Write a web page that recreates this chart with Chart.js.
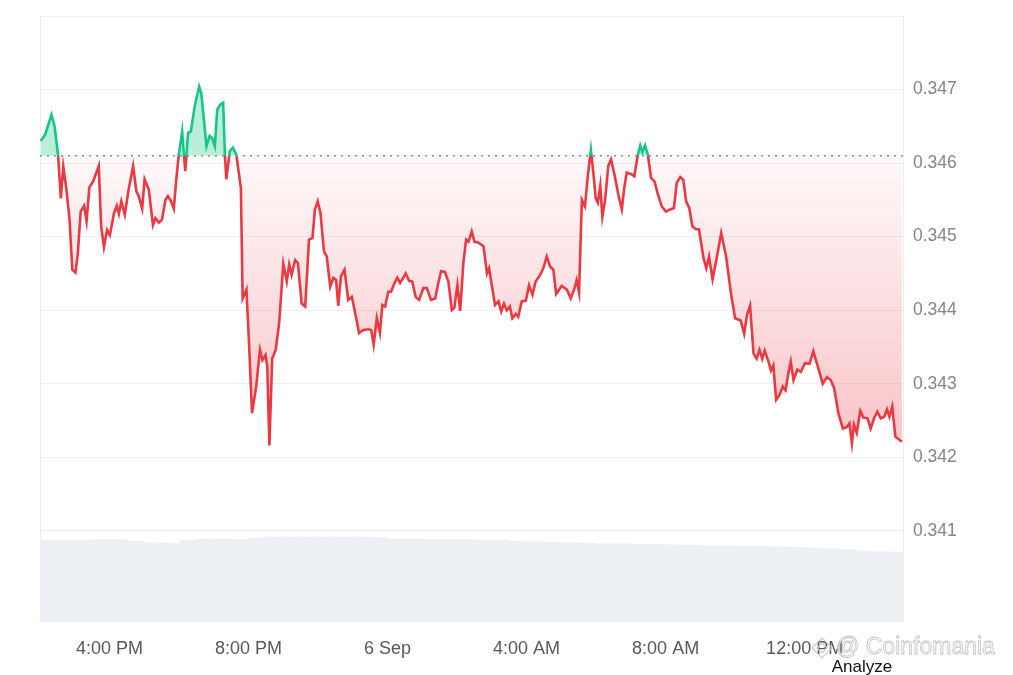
<!DOCTYPE html>
<html>
<head>
<meta charset="utf-8">
<script src="https://cdn.jsdelivr.net/npm/chart.js@4.4.1/dist/chart.umd.min.js"></script>
<style>
  html, body { margin: 0; padding: 0; background: #fff; }
  #wrap { width: 1013px; height: 675px; position: relative; }
</style>
</head>
<body>
<div id="wrap"><canvas id="priceChart"></canvas></div>
<script>
// hours counted from 12:00 PM on 5 Sep
var times = [
  2.02, 2.15, 2.33, 2.42, 2.52, 2.60, 2.67, 2.76, 2.85, 2.93,
  3.02, 3.09, 3.17, 3.27, 3.34, 3.42, 3.53, 3.69, 3.76, 3.84,
  3.93, 4.01, 4.13, 4.21, 4.27, 4.34, 4.44, 4.55, 4.68, 4.77,
  4.84, 4.94, 5.01, 5.13, 5.25, 5.32, 5.42, 5.51, 5.61, 5.68,
  5.76, 5.85, 5.92, 5.99, 6.09, 6.18, 6.26, 6.34, 6.45, 6.58,
  6.64, 6.79, 6.88, 6.95, 7.03, 7.10, 7.20, 7.27, 7.32, 7.36,
  7.46, 7.55, 7.65, 7.78, 7.83, 7.94, 8.01, 8.10, 8.22, 8.33,
  8.40, 8.49, 8.54, 8.60, 8.68, 8.78, 8.88, 9.00, 9.10, 9.17,
  9.24, 9.34, 9.42, 9.53, 9.63, 9.74, 9.84, 9.91, 9.99, 10.07,
  10.17, 10.25, 10.35, 10.44, 10.52, 10.58, 10.66, 10.76, 10.87, 10.97,
  11.04, 11.18, 11.30, 11.45, 11.53, 11.60, 11.69, 11.78, 11.85, 11.93,
  12.02, 12.10, 12.20, 12.28, 12.36, 12.45, 12.52, 12.62, 12.71, 12.81,
  12.91, 13.03, 13.13, 13.25, 13.37, 13.46, 13.54, 13.65, 13.75, 13.85,
  13.92, 14.01, 14.09, 14.18, 14.26, 14.33, 14.42, 14.50, 14.60,
  14.76, 14.86, 14.92, 15.02, 15.09, 15.19, 15.27, 15.35, 15.43, 15.52,
  15.59, 15.69, 15.76, 15.86, 15.98, 16.07, 16.17, 16.26, 16.39, 16.48,
  16.58, 16.68, 16.77, 16.85, 17.01, 17.16, 17.27, 17.38, 17.44, 17.51,
  17.59, 17.68, 17.76, 17.85, 17.92, 17.99, 18.05, 18.12, 18.18, 18.26,
  18.35, 18.43, 18.53, 18.64, 18.74, 18.81, 18.88, 19.01, 19.10, 19.20,
  19.27, 19.33, 19.41, 19.49, 19.58, 19.68, 19.78, 19.89, 20.01, 20.13,
  20.24, 20.32, 20.42, 20.51, 20.59, 20.68, 20.77, 20.87, 20.96, 21.09,
  21.17, 21.25, 21.35, 21.45, 21.60, 21.74, 21.88, 22.00, 22.16, 22.26,
  22.34, 22.43, 22.53, 22.62, 22.70, 22.78, 22.85, 22.96, 23.03, 23.10,
  23.18, 23.27, 23.37, 23.45, 23.53, 23.60, 23.68, 23.79, 23.89, 24.01,
  24.14, 24.25, 24.35, 24.45, 24.52, 24.64, 24.75, 24.85, 24.97, 25.10,
  25.21, 25.29, 25.36, 25.42, 25.50, 25.60, 25.69, 25.81, 25.90, 26.00,
  26.09, 26.19, 26.29, 26.37, 26.44, 26.52, 26.61, 26.80
];

var prices = [
  0.34630, 0.34639, 0.34666, 0.34650, 0.34611, 0.34552, 0.34595, 0.34564, 0.34523, 0.34455,
  0.34451, 0.34478, 0.34534, 0.34542, 0.34521, 0.34567, 0.34575, 0.34596, 0.34514, 0.34486,
  0.34509, 0.34502, 0.34532, 0.34542, 0.34531, 0.34548, 0.34530, 0.34564, 0.34596, 0.34562,
  0.34555, 0.34538, 0.34578, 0.34564, 0.34516, 0.34525, 0.34519, 0.34523, 0.34550, 0.34555,
  0.34549, 0.34538, 0.34577, 0.34610, 0.34643, 0.34589, 0.34641, 0.34643, 0.34677, 0.34704,
  0.34695, 0.34623, 0.34637, 0.34634, 0.34623, 0.34673, 0.34680, 0.34682, 0.34611, 0.34578,
  0.34616, 0.34621, 0.34611, 0.34566, 0.34416, 0.34428, 0.34359, 0.34260, 0.34296, 0.34346,
  0.34332, 0.34339, 0.34323, 0.34216, 0.34334, 0.34346, 0.34382, 0.34463, 0.34439, 0.34462,
  0.34448, 0.34468, 0.34464, 0.34409, 0.34405, 0.34496, 0.34498, 0.34537, 0.34548, 0.34532,
  0.34480, 0.34473, 0.34432, 0.34444, 0.34441, 0.34406, 0.34446, 0.34455, 0.34414, 0.34418,
  0.34403, 0.34369, 0.34373, 0.34374, 0.34373, 0.34353, 0.34389, 0.34369, 0.34407, 0.34405,
  0.34425, 0.34425, 0.34437, 0.34444, 0.34437, 0.34444, 0.34450, 0.34440, 0.34439, 0.34418,
  0.34414, 0.34430, 0.34430, 0.34414, 0.34416, 0.34437, 0.34453, 0.34452, 0.34439, 0.34400,
  0.34403, 0.34434, 0.34399, 0.34464, 0.34496, 0.34493, 0.34507, 0.34493, 0.34492,
  0.34487, 0.34450, 0.34457, 0.34428, 0.34407, 0.34412, 0.34398, 0.34409, 0.34400, 0.34405,
  0.34389, 0.34395, 0.34391, 0.34412, 0.34413, 0.34434, 0.34421, 0.34439, 0.34448, 0.34457,
  0.34473, 0.34459, 0.34455, 0.34422, 0.34433, 0.34428, 0.34416, 0.34430, 0.34441, 0.34424,
  0.34550, 0.34541, 0.34582, 0.34618, 0.34587, 0.34552, 0.34546, 0.34569, 0.34527, 0.34550,
  0.34596, 0.34605, 0.34584, 0.34557, 0.34537, 0.34566, 0.34587, 0.34585, 0.34582, 0.34611,
  0.34624, 0.34615, 0.34624, 0.34611, 0.34580, 0.34575, 0.34557, 0.34541, 0.34534, 0.34537,
  0.34539, 0.34573, 0.34581, 0.34577, 0.34548, 0.34539, 0.34514, 0.34510, 0.34510, 0.34471,
  0.34457, 0.34473, 0.34442, 0.34466, 0.34505, 0.34473, 0.34423, 0.34389, 0.34386, 0.34368,
  0.34393, 0.34406, 0.34341, 0.34334, 0.34346, 0.34334, 0.34345, 0.34330, 0.34318, 0.34325,
  0.34278, 0.34284, 0.34296, 0.34291, 0.34314, 0.34330, 0.34305, 0.34319, 0.34316, 0.34328,
  0.34327, 0.34344, 0.34328, 0.34312, 0.34300, 0.34309, 0.34305, 0.34294, 0.34260, 0.34239,
  0.34241, 0.34246, 0.34219, 0.34244, 0.34233, 0.34263, 0.34254, 0.34253, 0.34239, 0.34253,
  0.34262, 0.34253, 0.34255, 0.34265, 0.34255, 0.34269, 0.34228, 0.34221
];

var openPrice = 0.3461;

var volHours = [
  2.25, 2.75, 3.25, 3.75, 4.25, 4.75, 5.25, 5.75, 6.25, 6.75,
  7.25, 7.75, 8.25, 8.75, 9.25, 9.75, 10.25, 10.75, 11.25, 11.75,
  12.25, 12.75, 13.25, 13.75, 14.25, 14.75, 15.25, 15.75, 16.25, 16.75,
  17.25, 17.75, 18.25, 18.75, 19.25, 19.75, 20.25, 20.75, 21.25, 21.75,
  22.25, 22.75, 23.25, 23.75, 24.25, 24.75, 25.25, 25.75, 26.25, 26.75
];
var volumes = [
  8.1, 8.1, 8.1, 8.15, 8.15, 8.0, 7.85, 7.8, 8.1, 8.2,
  8.2, 8.15, 8.3, 8.4, 8.4, 8.4, 8.4, 8.4, 8.4, 8.35,
  8.2, 8.2, 8.15, 8.15, 8.15, 8.1, 8.1, 8.0, 7.95, 7.9,
  7.85, 7.8, 7.75, 7.75, 7.7, 7.7, 7.65, 7.6, 7.55, 7.55,
  7.5, 7.5, 7.45, 7.4, 7.35, 7.25, 7.2, 7.0, 6.95, 6.9
];

var tickHours = [4, 8, 12, 16, 20, 24];
var tickLabels = ['4:00 PM', '8:00 PM', '6 Sep', '4:00 AM', '8:00 AM', '12:00 PM'];
var priceTicks = [0.341, 0.342, 0.343, 0.344, 0.345, 0.346, 0.347, 0.348];

var GREEN = 'rgb(22, 199, 132)';
var RED = 'rgb(234, 57, 67)';
var FONT = "'Liberation Sans', Arial, sans-serif";

var pricePoints = times.map(function (t, i) {
  return { x: t, y: prices[i] };
});
var volPoints = volHours.map(function (t, i) {
  return { x: t, y: volumes[i] };
});

// left edge of the box + watermark text
var framePlugin = {
  id: 'frame',
  beforeDatasetsDraw: function (chart) {
    var a = chart.chartArea;
    var ctx = chart.ctx;
    ctx.save();
    ctx.strokeStyle = '#eeeeee';
    ctx.lineWidth = 1;
    ctx.beginPath();
    ctx.moveTo(a.left + 0.5, a.top);
    ctx.lineTo(a.left + 0.5, a.bottom);
    ctx.stroke();
    ctx.restore();
  },
  afterDraw: function (chart) {
    var ctx = chart.ctx;
    ctx.save();
    // diamond logo
    ctx.strokeStyle = '#cacaca';
    ctx.lineWidth = 1.2;
    ctx.beginPath();
    ctx.moveTo(822, 638); ctx.lineTo(832, 648); ctx.lineTo(822, 658); ctx.lineTo(812, 648); ctx.closePath();
    ctx.stroke();
    ctx.beginPath();
    ctx.moveTo(822, 643); ctx.lineTo(827, 648); ctx.lineTo(822, 653); ctx.lineTo(817, 648); ctx.closePath();
    ctx.stroke();
    ctx.font = '23px ' + FONT;
    ctx.textBaseline = 'middle';
    ctx.textAlign = 'left';
    ctx.lineWidth = 0.8;
    ctx.strokeStyle = '#c2c2c2';
    ctx.fillStyle = 'rgba(255,255,255,0.75)';
    ctx.fillText('@ Coinfomania', 836, 648);
    ctx.strokeText('@ Coinfomania', 836, 648);
    ctx.fillStyle = '#111';
    ctx.font = '17px ' + FONT;
    ctx.textAlign = 'center';
    ctx.fillText('Analyze', 862, 667);
    ctx.restore();
  }
};

var chart = new Chart(document.getElementById('priceChart'), {
  data: {
    datasets: [
      {
        type: 'line',
        label: 'open',
        data: [{ x: 2, y: openPrice }, { x: 26.83, y: openPrice }],
        borderColor: '#8c8c8c',
        borderWidth: 1.5,
        borderDash: [2, 5],
        pointRadius: 0,
        fill: false,
        order: 1,
        yAxisID: 'y'
      },
      {
        type: 'line',
        label: 'price',
        data: pricePoints,
        borderColor: RED,
        borderWidth: 2.6,
        pointRadius: 0,
        tension: 0,
        fill: { target: { value: openPrice }, above: 'rgba(22, 199, 132, 0.3)', below: 'rgba(234, 57, 67, 0.1)' },
        order: 2,
        yAxisID: 'y'
      },
      {
        type: 'bar',
        label: 'volume',
        data: volPoints,
        backgroundColor: 'rgb(236, 240, 244)',
        barPercentage: 1,
        categoryPercentage: 1,
        order: 3,
        yAxisID: 'yv'
      }
    ]
  },
  options: {
    responsive: true,
    maintainAspectRatio: false,
    animation: false,
    layout: { padding: { top: 16, left: 40, right: 0, bottom: 0 } },
    plugins: {
      legend: { display: false },
      tooltip: { enabled: false }
    },
    scales: {
      x: {
        type: 'linear',
        min: 2,
        max: 26.83,
        offset: false,
        grid: { display: false, offset: false },
        border: { display: false },
        afterBuildTicks: function (scale) {
          scale.ticks = tickHours.map(function (h) { return { value: h }; });
        },
        afterFit: function (scale) {
          scale.height = 53;
          scale.paddingLeft = 0;
          scale.paddingRight = 0;
        },
        ticks: {
          autoSkip: false,
          maxRotation: 0,
          padding: 8,
          color: '#555a60',
          font: { family: FONT, size: 18 },
          callback: function (value) {
            var i = tickHours.indexOf(value);
            return i >= 0 ? tickLabels[i] : '';
          }
        }
      },
      y: {
        position: 'right',
        min: 0.33976,
        max: 0.348,
        grid: { color: '#efefef', drawTicks: false },
        border: { display: true, color: '#eeeeee' },
        afterBuildTicks: function (scale) {
          scale.ticks = priceTicks.map(function (v) { return { value: v }; });
        },
        afterFit: function (scale) {
          scale.width = 110;
          scale.paddingTop = 0;
          scale.paddingBottom = 0;
        },
        ticks: {
          padding: 10,
          color: '#80868e',
          font: { family: FONT, size: 17.5 },
          callback: function (value) {
            return value > 0.3475 ? '' : value.toFixed(3);
          }
        }
      },
      yv: {
        display: false,
        min: 0,
        max: 60
      }
    }
  },
  plugins: [framePlugin]
});

// colour the line green above the opening price and red below it
function paintColours() {
  var area = chart.chartArea;
  var yScale = chart.scales.y;
  var ctx = chart.ctx;
  var base = yScale.getPixelForValue(openPrice);
  var stop = (base - area.top) / (area.bottom - area.top);
  var lineGrad = ctx.createLinearGradient(0, area.top, 0, area.bottom);
  lineGrad.addColorStop(0, GREEN);
  lineGrad.addColorStop(stop, GREEN);
  lineGrad.addColorStop(stop, RED);
  lineGrad.addColorStop(1, RED);
  var belowGrad = ctx.createLinearGradient(0, base, 0, yScale.getPixelForValue(0.3421));
  belowGrad.addColorStop(0, 'rgba(234, 57, 67, 0.03)');
  belowGrad.addColorStop(1, 'rgba(234, 57, 67, 0.3)');
  var ds = chart.data.datasets[1];
  ds.borderColor = lineGrad;
  ds.fill = { target: { value: openPrice }, above: 'rgba(22, 199, 132, 0.3)', below: belowGrad };
  chart.update('none');
}
paintColours();
</script>
</body>
</html>
